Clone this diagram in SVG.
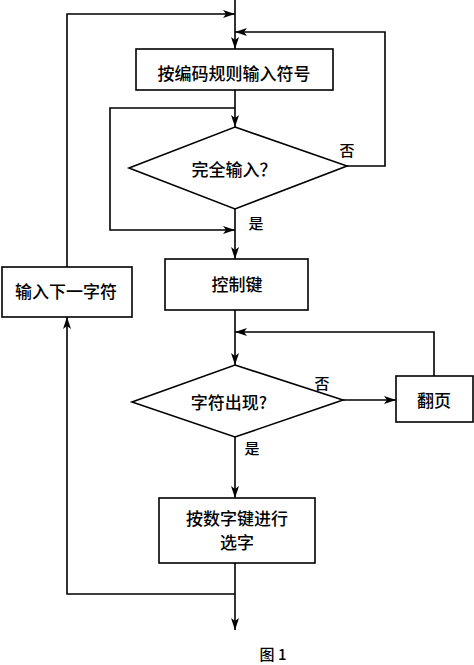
<svg xmlns="http://www.w3.org/2000/svg" width="474" height="665" viewBox="0 0 474 665">
<style>
.n{fill:#fff;stroke:#000;stroke-width:1.6}
.c{fill:none;stroke:#000;stroke-width:1.6}
.t{font-family:"Noto Sans CJK SC","Noto Sans",sans-serif;font-size:17px;font-weight:500;fill:#000;text-anchor:middle;dominant-baseline:central}
.l{font-family:"Noto Sans CJK SC","Noto Sans",sans-serif;font-size:15px;font-weight:500;fill:#000;text-anchor:middle;dominant-baseline:central}
</style>
<defs>
<marker id="a" viewBox="0 0 12 8" refX="12" refY="4" markerWidth="12" markerHeight="8" orient="auto" markerUnits="userSpaceOnUse">
<path d="M0,0 L12,4 L0,8 L3,4 Z" fill="#000"/>
</marker>
</defs>
<rect width="474" height="665" fill="#fff"/>
<g id="connectors">
<path class="c" d="M235,0 V49" marker-end="url(#a)"/>
<path class="c" d="M67,267 V14 H235" marker-end="url(#a)"/>
<path class="c" d="M235,563 V630" marker-end="url(#a)"/>
<path class="c" d="M235,594 H67 V317" marker-end="url(#a)"/>
<path class="c" d="M235,90 V127" marker-end="url(#a)"/>
<path class="c" d="M235,108 H110 V230 H235" marker-end="url(#a)"/>
<path class="c" d="M347,166 H385 V32 H235" marker-end="url(#a)"/>
<path class="c" d="M235,209 V259" marker-end="url(#a)"/>
<path class="c" d="M235,310 V365" marker-end="url(#a)"/>
<path class="c" d="M343,400 H396" marker-end="url(#a)"/>
<path class="c" d="M434,376 V332 H235" marker-end="url(#a)"/>
<path class="c" d="M235,437 V498" marker-end="url(#a)"/>
</g>
<g id="n1">
<rect class="n" x="136" y="49" width="197" height="41"/>
<text class="t" x="234" y="72">按编码规则输入符号</text>
</g>
<g id="n2">
<polygon class="n" points="235,127 347,166 235,209 129,168"/>
<text class="t" x="234" y="168">完全输入？</text>
</g>
<g id="n3">
<rect class="n" x="165" y="259" width="143" height="51"/>
<text class="t" x="237" y="283">控制键</text>
</g>
<g id="n4">
<rect class="n" x="2" y="267" width="130" height="50"/>
<text class="t" x="66" y="290">输入下一字符</text>
</g>
<g id="n5">
<polygon class="n" points="235,365 343,400 235,437 132,402"/>
<text class="t" x="229" y="401">字符出现?</text>
</g>
<g id="n6">
<rect class="n" x="396" y="376" width="77" height="46"/>
<text class="t" x="434" y="399">翻页</text>
</g>
<g id="n7">
<rect class="n" x="159" y="498" width="156" height="65"/>
<text class="t" x="237" y="517">按数字键进行</text>
<text class="t" x="237" y="541">选字</text>
</g>
<g id="labels">
<text class="l" x="347" y="149">否</text>
<text class="l" x="256" y="222">是</text>
<text class="l" x="322" y="382">否</text>
<text class="l" x="252" y="447">是</text>
<text class="l" x="273" y="653" font-size="16">图 1</text>
</g>
</svg>
